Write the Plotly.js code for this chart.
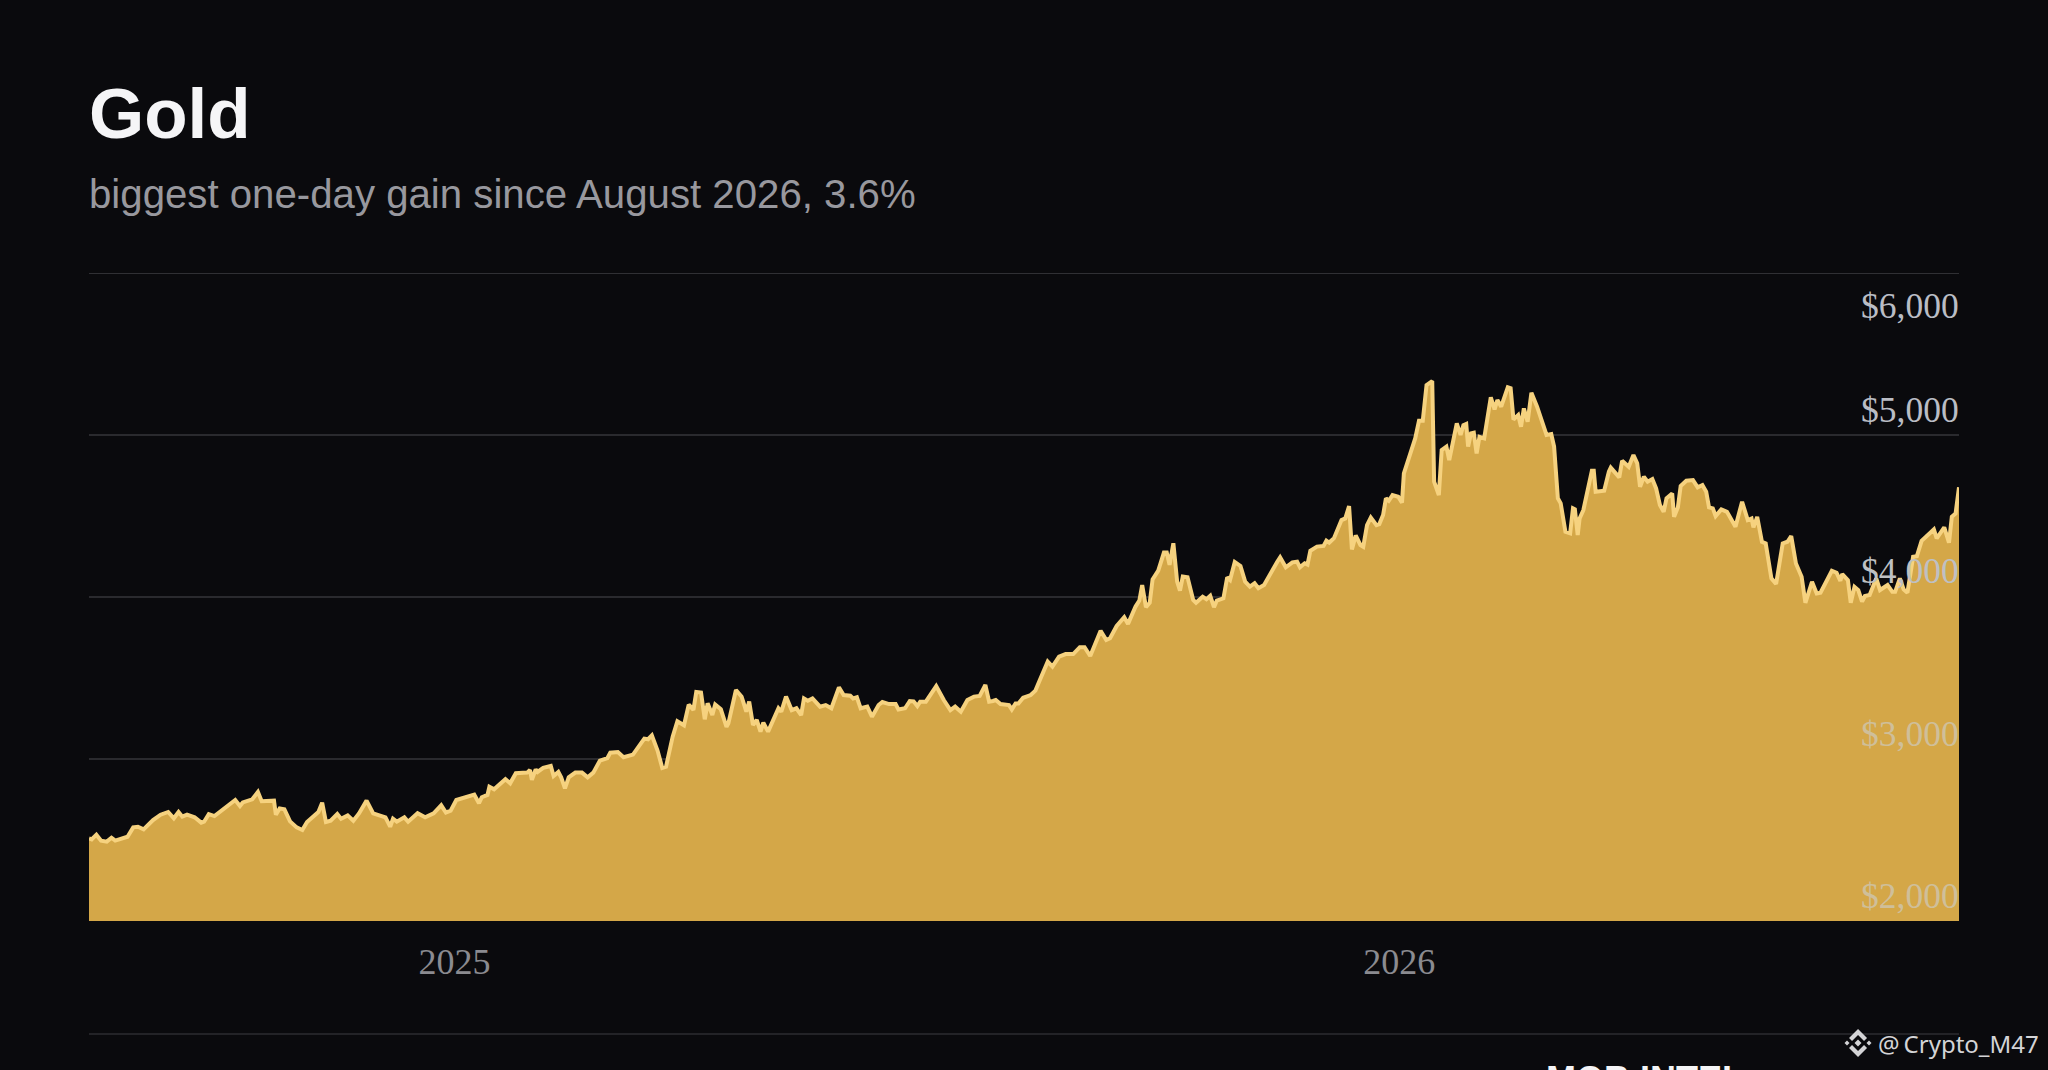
<!DOCTYPE html>
<html>
<head>
<meta charset="utf-8">
<script src="https://cdn.plot.ly/plotly-3.0.1.min.js"></script>
<style>html,body{margin:0;padding:0;background:#0a0a0d;overflow:hidden}#chart{width:2048px;height:1070px}</style>
</head>
<body>
<div id="chart"></div>
<script>
const chartTitle = "Gold";
const chartSubtitle = "biggest one-day gain since August 2026, 3.6%";
const xTickYears = [2025, 2026];
const xTickLabels = ["2025", "2026"];
const yTickValues = [2000, 3000, 4000, 5000, 6000];
const yTickLabels = ["$2,000", "$3,000", "$4,000", "$5,000", "$6,000"];
const watermark = "@\u2009Crypto_M47";
const footerText = "MOB INTEL";

const years = [
2024.6132,2024.616,2024.621,2024.626,2024.632,2024.637,2024.641,2024.650,2024.654,2024.660,2024.665,2024.671,2024.681,2024.689,2024.697,2024.703,2024.708,2024.712,2024.717,2024.725,2024.732,2024.735,2024.740,2024.746,2024.761,2024.768,2024.773,2024.776,2024.786,2024.792,2024.796,2024.809,2024.811,2024.815,2024.820,2024.826,2024.833,2024.839,2024.844,2024.856,2024.860,2024.864,2024.869,2024.876,2024.880,2024.887,2024.893,2024.899,2024.907,2024.914,2024.927,2024.932,2024.935,2024.939,2024.947,2024.951,
2024.961,2024.969,2024.978,2024.986,2024.991,2024.996,2025.002,2025.010,2025.015,2025.021,2025.026,2025.029,2025.035,2025.037,2025.042,2025.054,2025.059,2025.065,2025.077,2025.080,2025.082,2025.086,2025.088,2025.094,2025.102,2025.105,2025.110,2025.113,2025.117,2025.121,2025.128,2025.135,2025.141,2025.147,2025.154,2025.162,2025.165,2025.173,2025.179,2025.189,2025.201,2025.205,2025.209,2025.215,2025.220,2025.224,2025.231,2025.236,2025.243,2025.248,2025.253,2025.256,2025.261,2025.265,2025.268,2025.273,2025.276,2025.282,
2025.288,2025.290,2025.298,2025.304,2025.309,2025.312,2025.316,2025.320,2025.324,2025.327,2025.332,2025.340,2025.343,2025.346,2025.351,2025.357,2025.362,2025.367,2025.370,2025.374,2025.379,2025.387,2025.393,2025.399,2025.407,2025.412,2025.419,2025.422,2025.426,2025.430,2025.437,2025.442,2025.449,2025.453,2025.460,2025.467,2025.470,2025.477,2025.482,2025.486,2025.490,2025.493,2025.499,2025.510,2025.518,2025.525,2025.530,2025.536,2025.543,2025.550,2025.556,2025.562,2025.566,2025.570,2025.573,2025.578,2025.587,2025.590,2025.594,2025.597,2025.602,2025.610,
2025.615,2025.619,2025.628,2025.633,2025.640,2025.647,2025.655,2025.662,2025.667,2025.673,2025.678,2025.684,2025.690,2025.694,2025.701,2025.709,2025.713,2025.721,2025.725,2025.728,2025.732,2025.736,2025.739,2025.745,2025.751,2025.754,2025.757,2025.760,2025.761,2025.765,2025.768,2025.771,2025.776,2025.782,2025.785,2025.792,2025.796,2025.800,2025.804,2025.807,2025.814,2025.818,2025.821,2025.826,2025.832,2025.837,2025.842,2025.847,2025.851,2025.857,2025.864,2025.871,2025.874,2025.880,2025.887,2025.892,2025.895,2025.900,2025.903,2025.906,2025.913,2025.920,2025.923,2025.926,2025.931,
2025.939,2025.943,2025.947,2025.950,2025.954,2025.959,2025.962,2025.966,2025.970,2025.976,2025.979,2025.983,2025.986,2025.989,2025.993,2025.999,2026.003,2026.005,2026.008,2026.017,2026.021,2026.025,2026.029,2026.035,2026.037,2026.041,2026.042,2026.045,2026.050,2026.053,2026.061,2026.065,2026.068,2026.071,2026.073,2026.076,2026.079,2026.082,2026.085,2026.090,2026.097,2026.101,2026.104,2026.108,2026.115,2026.118,2026.121,2026.126,2026.129,2026.132,2026.136,2026.140,2026.146,2026.156,2026.161,2026.164,2026.168,2026.171,2026.176,2026.181,2026.184,2026.186,2026.189,2026.191,2026.195,2026.204,2026.206,2026.208,2026.217,2026.222,2026.224,2026.233,2026.236,2026.243,2026.248,2026.252,2026.255,2026.259,2026.263,2026.268,2026.272,2026.276,
2026.280,2026.283,2026.289,2026.291,2026.295,2026.298,2026.304,2026.311,2026.316,2026.321,2026.325,2026.328,2026.332,2026.335,2026.341,2026.347,2026.356,2026.363,2026.369,2026.373,2026.375,2026.379,2026.384,2026.388,2026.394,2026.399,2026.406,2026.411,2026.415,2026.420,2026.426,2026.430,2026.437,2026.442,2026.446,2026.458,2026.463,2026.467,2026.469,2026.475,2026.478,2026.482,2026.486,2026.490,2026.493,2026.498,2026.505,2026.509,2026.514,2026.517,2026.522,2026.525,2026.530,2026.534,2026.538,2026.544,2026.548,2026.553,2026.566,2026.569,2026.577,2026.582,2026.585,2026.589,2026.5926
];
const goldPrice = [
2510,2504,2533,2496,2490,2514,2496,2514,2520,2578,2582,2566,2623,2656,2673,2634,2673,2644,2656,2640,2607,2613,2660,2648,2714,2747,2710,2732,2751,2796,2739,2743,2656,2695,2689,2615,2578,2562,2611,2673,2730,2611,2619,2660,2631,2652,2619,2664,2743,2664,2640,2582,2631,2613,2640,2613,
2665,2640,2665,2714,2669,2681,2747,2759,2772,2780,2727,2764,2778,2829,2813,2875,2850,2912,2916,2932,2871,2936,2920,2945,2957,2895,2920,2887,2819,2887,2916,2916,2887,2916,2990,3006,3039,3043,3011,3027,3126,3122,3146,3052,2945,2953,3138,3233,3208,3336,3303,3414,3410,3245,3344,3272,3336,3307,
3199,3220,3426,3385,3292,3354,3210,3241,3169,3224,3169,3271,3313,3292,3385,3302,3313,3271,3374,3360,3374,3323,3333,3313,3442,3395,3391,3374,3381,3313,3323,3261,3333,3352,3339,3339,3306,3313,3358,3356,3327,3354,3354,3450,3364,3302,3323,3292,3364,3385,3389,3457,3354,3358,3364,3339,3333,3306,3343,3343,3378,3395,
3422,3478,3601,3570,3632,3648,3648,3690,3690,3636,3714,3792,3735,3745,3821,3875,3834,3941,3978,4074,3937,3965,4109,4163,4274,4274,4198,4332,4332,4095,4039,4126,4122,3982,3965,4002,3986,4007,3937,3978,3992,4122,4105,4216,4192,4095,4064,4085,4054,4074,4151,4218,4245,4183,4214,4218,4183,4208,4200,4286,4311,4315,4348,4336,4363,
4475,4485,4561,4294,4380,4321,4310,4444,4491,4444,4450,4506,4609,4594,4629,4619,4582,4763,4814,4979,5088,5088,5308,5333,4712,4629,4629,4907,4928,4845,5072,5000,5061,5068,4928,5010,5014,4886,4989,4979,5232,5158,5216,5175,5294,5288,5096,5123,5051,5164,5082,5261,5175,5000,5006,4928,4609,4578,4403,4393,4547,4541,4382,4485,4537,4779,4779,4650,4656,4773,4798,4738,4841,4804,4876,4825,4681,4742,4712,4728,4670,4568,
4526,4609,4639,4495,4553,4685,4718,4722,4677,4691,4650,4553,4547,4500,4541,4526,4434,4588,4475,4485,4430,4495,4341,4331,4115,4080,4331,4341,4376,4207,4125,3964,4094,4022,4026,4162,4150,4100,4141,4104,3964,4063,4043,3971,4006,4012,4115,4043,4067,4074,4032,4032,4115,4047,4026,4248,4252,4347,4417,4362,4430,4335,4495,4516,4677
];

const W = 2048, H = 1070;
const L = 88.5, R = 1959, T = 273, B = 921;
const px = x => (x - L) / (R - L);
const py = y => (B - y) / (B - T);

/* pixel offset of each y label from its gridline */
const labelShift = [25, 25, 26, 25, -33];
const labelColor = ["#cfbf9a", "#cfbf9a", "#bec0c3", "#babdc5", "#babdc5"];

const annotations = yTickValues.map((v, i) => ({
  xref: "paper", yref: "y", x: 1, y: v, xanchor: "right", yanchor: "middle",
  xshift: 2, yshift: labelShift[i], text: yTickLabels[i], showarrow: false,
  font: { family: "Liberation Serif", size: 35.5, color: labelColor[i] }
}));
annotations.push(
  { xref: "paper", yref: "paper", x: px(86), y: py(141), xanchor: "left", yanchor: "bottom", yshift: -14, text: "<b>" + chartTitle + "</b>", showarrow: false, font: { family: "Liberation Sans", size: 71, color: "#f5f5f7" } },
  { xref: "paper", yref: "paper", x: px(86), y: py(194), xanchor: "left", yanchor: "middle", text: chartSubtitle, showarrow: false, font: { family: "Liberation Sans", size: 40.2, color: "#98989e" } },
  { xref: "paper", yref: "paper", x: px(1876), y: py(1043), xanchor: "left", yanchor: "middle", text: watermark, showarrow: false, font: { family: "Noto Sans", size: 24, color: "#d4d4d6" } },
  { xref: "paper", yref: "paper", x: px(1544), y: py(1079), xanchor: "left", yanchor: "middle", text: "<b>" + footerText + "</b>", showarrow: false, font: { family: "Liberation Sans", size: 36, color: "#f5f5f7" } }
);

const diamond = (cx, cy, r) => `M${px(cx - r)},${py(cy)}L${px(cx)},${py(cy - r)}L${px(cx + r)},${py(cy)}L${px(cx)},${py(cy + r)}Z`;
const iconX = 1858, iconY = 1043;
const chevron = (s) => `M${px(iconX - 9)},${py(iconY + s * 5)}L${px(iconX)},${py(iconY + s * 14)}L${px(iconX + 9)},${py(iconY + s * 5)}L${px(iconX + 6)},${py(iconY + s * 2)}L${px(iconX)},${py(iconY + s * 8)}L${px(iconX - 6)},${py(iconY + s * 2)}Z`;
const iconPaths = [diamond(iconX, iconY, 3.5), diamond(iconX - 11, iconY, 2.5), diamond(iconX + 11, iconY, 2.5), chevron(1), chevron(-1)];

const shapes = [
  { type: "line", xref: "paper", yref: "paper", x0: 0, x1: 1, y0: py(1034), y1: py(1034), line: { color: "#2c2c30", width: 1.5 } },
  { type: "line", xref: "paper", yref: "y", x0: 0, x1: 1, y0: 6000, y1: 6000, yshift: 0, line: { color: "#303034", width: 2 } }
].concat(iconPaths.map(p => ({ type: "path", xref: "paper", yref: "paper", path: p, fillcolor: "#d4d4d6", line: { width: 0 } })));

Plotly.newPlot("chart", [{
  x: years, y: goldPrice, type: "scatter", mode: "lines", fill: "tozeroy",
  fillcolor: "#d4a748", line: { color: "#f6d27f", width: 4, shape: "linear" },
  hoverinfo: "skip", cliponaxis: true
}], {
  width: W, height: H,
  paper_bgcolor: "#0a0a0d", plot_bgcolor: "#0a0a0d",
  margin: { l: L, r: W - R, t: T, b: H - B, pad: 0 },
  showlegend: false,
  xaxis: {
    type: "linear", range: [2024.6132, 2026.5926], tickmode: "array",
    tickvals: xTickYears, ticktext: xTickLabels, showgrid: false, zeroline: false,
    showline: false, ticks: "", ticklabelstandoff: 16,
    tickfont: { family: "Liberation Serif", size: 36, color: "#8b8b90" }
  },
  yaxis: {
    type: "linear", range: [2000, 6000], tickmode: "array", tickvals: yTickValues,
    showticklabels: false, showgrid: true, gridcolor: "#2a2a2e", gridwidth: 1.5,
    zeroline: false, showline: false, ticks: "", layer: "below traces"
  },
  annotations, shapes
}, { staticPlot: true, displayModeBar: false });
</script>
</body>
</html>
